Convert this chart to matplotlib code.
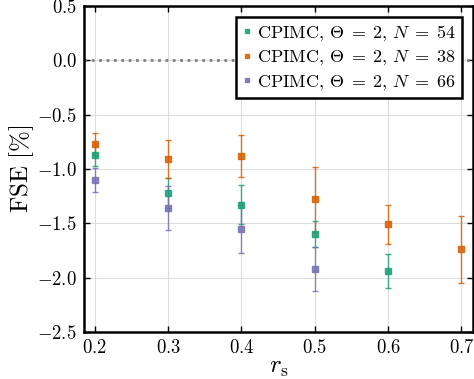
import matplotlib
matplotlib.use("Agg")
import matplotlib.pyplot as plt
from matplotlib.lines import Line2D

plt.rcParams['mathtext.fontset'] = 'cm'
plt.rcParams['font.family'] = 'serif'
plt.rcParams['font.serif'] = ['cmr10', 'DejaVu Serif']
plt.rcParams['axes.formatter.use_mathtext'] = True

# data
rs_54 = [0.2, 0.3, 0.4, 0.5, 0.6]
fse_54 = [-0.875, -1.22, -1.33, -1.60, -1.94]
err_54 = [0.10, 0.14, 0.18, 0.12, 0.155]

rs_38 = [0.2, 0.3, 0.4, 0.5, 0.6, 0.7]
fse_38 = [-0.77, -0.91, -0.88, -1.28, -1.51, -1.74]
err_38 = [0.10, 0.175, 0.19, 0.30, 0.18, 0.31]

rs_66 = [0.2, 0.3, 0.4, 0.5]
fse_66 = [-1.10, -1.36, -1.55, -1.92]
err_66 = [0.11, 0.20, 0.22, 0.20]

labels = [r'CPIMC, $\Theta\;=\;2$, $N\;=\;54$',
          r'CPIMC, $\Theta\;=\;2$, $N\;=\;38$',
          r'CPIMC, $\Theta\;=\;2$, $N\;=\;66$']
colors = ['#1b9e77', '#d95f02', '#7570b3']

fig = plt.figure(figsize=(4.74, 3.79), dpi=100)
ax = fig.add_axes([0.177, 0.124, 0.821, 0.86])

ax.axhline(0, color='gray', linestyle=':', linewidth=2, zorder=1)

series = [(rs_54, fse_54, err_54), (rs_38, fse_38, err_38), (rs_66, fse_66, err_66)]
handles = []
for (x, y, e), lab, c in zip(series, labels, colors):
    ax.errorbar(x, y, yerr=e, fmt='s', color=c, markersize=5, alpha=0.85,
                capsize=2, elinewidth=1, capthick=1, zorder=3)
    handles.append(Line2D([], [], linestyle='none', marker='s', color=c,
                          markersize=3.5, alpha=0.85, label=lab))

ax.set_xlim(0.185, 0.716)
ax.set_ylim(-2.5, 0.5)
ax.set_xticks([0.2, 0.3, 0.4, 0.5, 0.6, 0.7])
ax.set_yticks([0.5, 0.0, -0.5, -1.0, -1.5, -2.0, -2.5])
ax.set_xticklabels(['$0.2$', '$0.3$', '$0.4$', '$0.5$', '$0.6$', '$0.7$'])
ax.set_yticklabels(['$0.5$', '$0.0$', '$-0.5$', '$-1.0$', '$-1.5$', '$-2.0$', '$-2.5$'])
ax.grid(True, color='#dddddd', linewidth=0.8)
ax.set_axisbelow(True)
ax.tick_params(direction='in', top=True, right=True, length=4, width=1,
               labelsize=13.5, pad=5)
for s in ax.spines.values():
    s.set_linewidth(1.8)

ax.set_xlabel(r'$r_\mathrm{s}$', fontsize=18, labelpad=0)
ax.set_ylabel(r'$\mathrm{FSE}\ [\%]$', fontsize=18, labelpad=1)

leg = ax.legend(handles=handles, loc='upper right', fontsize=13, fancybox=False,
                framealpha=1, edgecolor='black', handlelength=0.5,
                handletextpad=0.3, borderpad=0.35, labelspacing=0.3,
                borderaxespad=0.6)
leg.get_frame().set_linewidth(1.8)

fig.savefig('out.png', dpi=100)
